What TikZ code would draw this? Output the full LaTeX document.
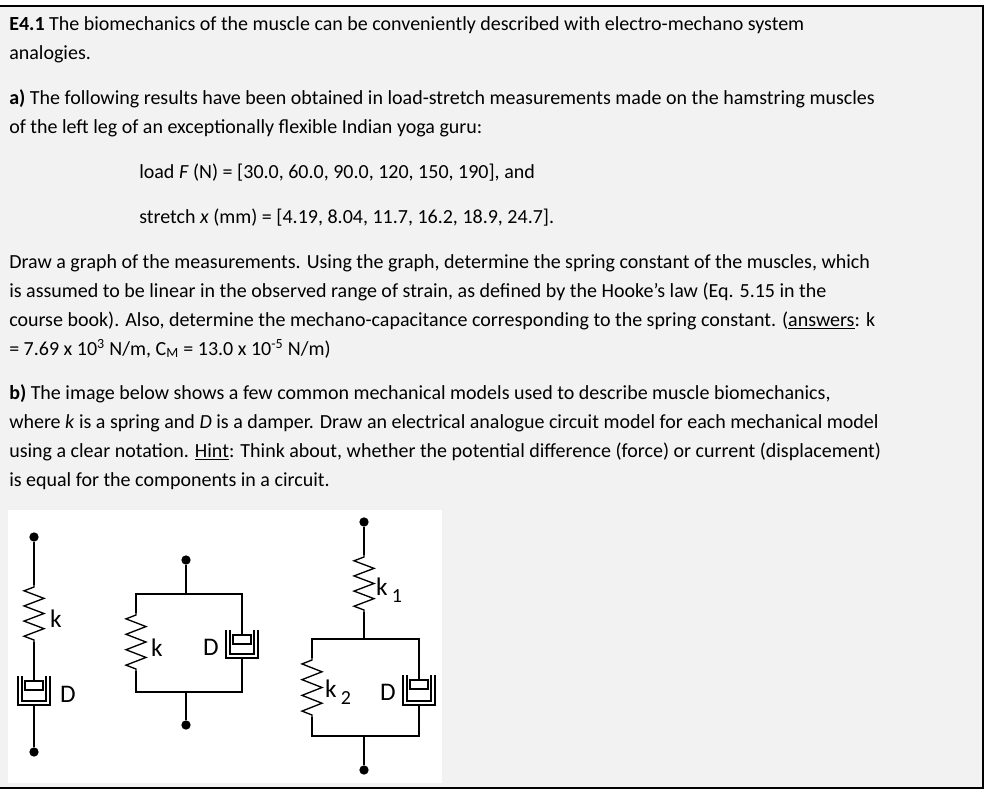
\documentclass[tikz,border=0pt]{standalone}
\usepackage{fontspec}
\setmainfont{Carlito}
\newcommand{\myspring}[3]{%
  \draw[wire] (#1,#2) -- ++(0,2)
  \foreach \i in {1,...,7} { -- ({#1+(mod(\i,2)==1?-10:10)},{#2+2+(#3-#2-4)*(\i-0.5)/7}) }
  -- (#1,#3-2) -- (#1,#3);}
\newcommand{\mydamper}[3]{%
  \draw[wire] (#1-16,#2) -- (#1-16,#3) -- (#1+16,#3) -- (#1+16,#2);
  \draw[wire] (#1-12,#2) -- (#1-12,#3-4) -- (#1+12,#3-4) -- (#1+12,#2);
  \draw[wire] (#1-9,#2+5) rectangle (#1+9,#2+14);}
\begin{document}
\begin{tikzpicture}[x=0.75pt,y=-0.75pt,
  txt/.style={anchor=base west,inner sep=0pt,font=\fontsize{15pt}{18pt}\selectfont},
  lbl/.style={inner sep=0pt,font=\fontsize{19pt}{20pt}\selectfont},
  wire/.style={line width=1pt},
  dotn/.style={circle,fill=black,inner sep=0pt,minimum size=7pt}]
\useasboundingbox (0,0) rectangle (996,793);
\fill[white] (0,0) rectangle (996,793);
\fill[black!5] (0,6) rectangle (983,788);
\draw[line width=1.2pt] (-2,6) -- (983,6) -- (983,788) -- (-2,788);
\node[txt] (l1) at (9,30) {\textbf{E4.1} The biomechanics of the muscle can be conveniently described with electro-mechano system};
\node[txt] (l2) at (9,59) {analogies.};
\node[txt] (l3) at (9,104) {\textbf{a)} The following results have been obtained in load-stretch measurements made on the hamstring muscles};
\node[txt] (l4) at (9,133) {of the left leg of an exceptionally flexible Indian yoga guru:};
\node[txt] (l5) at (139,178) {load \textit{F} (N) = [30.0, 60.0, 90.0, 120, 150, 190], and};
\node[txt] (l6) at (139,223) {stretch \textit{x} (mm) = [4.19, 8.04, 11.7, 16.2, 18.9, 24.7].};
\node[txt] (l7) at (9,268) {Draw a graph of the measurements. Using the graph, determine the spring constant of the muscles, which};
\node[txt] (l8) at (9,297) {is assumed to be linear in the observed range of strain, as defined by the Hooke’s law (Eq. 5.15 in the};
\node[txt] (l9) at (9,326) {course book). Also, determine the mechano-capacitance corresponding to the spring constant. (\underline{answers}: k};
\node[txt] (l10) at (9,355) {= 7.69 x 10\textsuperscript{3} N/m, C\textsubscript{M} = 13.0 x 10\textsuperscript{-5} N/m)};
\node[txt] (l11) at (9,399) {\textbf{b)} The image below shows a few common mechanical models used to describe muscle biomechanics,};
\node[txt] (l12) at (9,428) {where \textit{k} is a spring and \textit{D} is a damper. Draw an electrical analogue circuit model for each mechanical model};
\node[txt] (l13) at (9,457) {using a clear notation. \underline{Hint}: Think about, whether the potential difference (force) or current (displacement)};
\node[txt] (l14) at (9,486) {is equal for the components in a circuit.};
\fill[white] (8,510) rectangle (442,783);
% model 1
\node[dotn] (a1) at (34,537) {};
\node[dotn] (a2) at (34,752) {};
\draw[wire] (a1) -- (34,585);
\myspring{34}{585}{642}
\draw[wire] (34,642) -- (34,682);
\mydamper{34}{676}{705}
\draw[wire] (34,705) -- (a2);
\node[lbl] (ka) at (56,619) {k};
\node[lbl] (da) at (68,694) {D};
% model 2
\node[dotn] (b1) at (186,560) {};
\node[dotn] (b2) at (186,725) {};
\draw[wire] (b1) -- (186,594);
\draw[wire] (136,613) -- (136,594) -- (242,594) -- (242,635);
\myspring{136}{613}{671}
\mydamper{242}{630}{658}
\draw[wire] (136,671) -- (136,692) -- (242,692) -- (242,658);
\draw[wire] (186,692) -- (b2);
\node[lbl] (kb) at (157,648) {k};
\node[lbl] (db) at (211,647) {D};
% model 3
\node[dotn] (c1) at (364,522) {};
\node[dotn] (c2) at (364,770) {};
\draw[wire] (c1) -- (364,555);
\myspring{364}{555}{612}
\draw[wire] (364,612) -- (364,639);
\draw[wire] (312,658) -- (312,639) -- (419,639) -- (419,680);
\myspring{312}{658}{717}
\mydamper{419}{675}{705}
\draw[wire] (312,717) -- (312,736) -- (419,736) -- (419,705);
\draw[wire] (364,736) -- (c2);
\node[lbl] (kc) at (389,590) {k\,\raisebox{-5pt}{\fontsize{15pt}{16pt}\selectfont 1}};
\node[lbl] (kd) at (338,692) {k\,\raisebox{-5pt}{\fontsize{15pt}{16pt}\selectfont 2}};
\node[lbl] (dc) at (388,692) {D};
\end{tikzpicture}
\end{document}
